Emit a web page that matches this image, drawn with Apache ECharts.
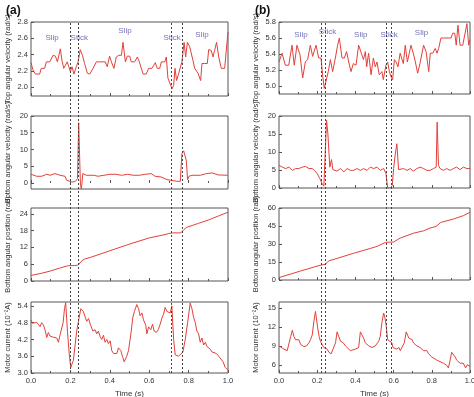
<!DOCTYPE html>
<html>
<head>
<meta charset="utf-8">
<script src="https://cdn.jsdelivr.net/npm/echarts@6/dist/echarts.min.js"></script>
<style>
  html, body { margin: 0; padding: 0; background: #fff; }
  #chart { width: 474px; height: 397px; }
</style>
</head>
<body>
<div id="chart"></div>
<script>
// time (s), value pairs
const topVelA = [[0,2.30],[0.010,2.21],[0.022,2.16],[0.044,2.16],[0.052,2.23],[0.069,2.23],[0.078,2.31],[0.095,2.31],[0.112,2.39],[0.124,2.38],[0.134,2.31],[0.140,2.31],[0.149,2.47],[0.157,2.33],[0.166,2.23],[0.176,2.23],[0.184,2.31],[0.193,2.31],[0.200,2.19],[0.208,2.25],[0.218,2.16],[0.230,2.25],[0.239,2.31],[0.250,2.46],[0.261,2.39],[0.272,2.29],[0.286,2.17],[0.298,2.16],[0.315,2.23],[0.332,2.31],[0.349,2.31],[0.365,2.31],[0.377,2.31],[0.387,2.25],[0.399,2.38],[0.408,2.31],[0.421,2.23],[0.433,2.37],[0.445,2.39],[0.459,2.39],[0.467,2.55],[0.479,2.31],[0.489,2.38],[0.501,2.38],[0.509,2.31],[0.526,2.31],[0.540,2.37],[0.550,2.31],[0.560,2.31],[0.569,2.16],[0.585,2.16],[0.597,2.23],[0.614,2.23],[0.624,2.23],[0.631,2.30],[0.641,2.23],[0.653,2.23],[0.662,2.31],[0.679,2.31],[0.687,2.37],[0.695,2.11],[0.704,2.09],[0.716,1.98],[0.724,2.02],[0.731,2.23],[0.739,2.08],[0.750,2.17],[0.760,2.15],[0.766,2.31],[0.777,2.55],[0.785,2.37],[0.794,2.55],[0.805,2.50],[0.814,2.50],[0.822,2.33],[0.831,2.23],[0.848,2.17],[0.861,2.08],[0.868,2.29],[0.882,2.29],[0.895,2.29],[0.902,2.46],[0.915,2.45],[0.924,2.37],[0.932,2.45],[0.942,2.55],[0.953,2.37],[0.966,2.23],[0.983,2.23],[0.992,2.23],[1.0,2.68]];
const botVelA = [[0,2.6],[0.029,2.0],[0.054,2.0],[0.080,2.6],[0.097,2.3],[0.122,2.8],[0.147,2.3],[0.173,2.0],[0.181,0.8],[0.190,0.3],[0.207,0.3],[0.224,0.4],[0.236,1.3],[0.242,18.0],[0.246,17.5],[0.251,-0.7],[0.256,-1.8],[0.263,2.8],[0.269,3.3],[0.280,2.3],[0.32,2.3],[0.34,2.0],[0.37,2.3],[0.40,2.6],[0.43,2.6],[0.46,2.3],[0.49,2.6],[0.52,2.3],[0.55,2.3],[0.58,2.6],[0.61,2.8],[0.63,2.0],[0.66,1.8],[0.69,1.0],[0.71,0.8],[0.72,0.6],[0.74,0.5],[0.758,0.5],[0.766,8.8],[0.775,9.6],[0.783,9.8],[0.788,6.8],[0.795,1.0],[0.802,2.0],[0.817,2.3],[0.86,2.3],[0.89,2.8],[0.92,3.0],[0.95,2.4],[1.0,2.3]];
const botPosA = [[0,2.0],[0.05,2.7],[0.10,3.6],[0.15,4.7],[0.19,5.5],[0.20,5.6],[0.22,5.5],[0.24,5.7],[0.255,7.0],[0.27,7.8],[0.30,8.4],[0.40,10.8],[0.50,13.2],[0.60,15.4],[0.68,16.6],[0.70,17.0],[0.72,17.2],[0.76,17.2],[0.775,18.3],[0.79,19.2],[0.85,20.6],[0.90,21.8],[0.95,23.2],[1.0,24.6]];
const currentA = [[0,4.90],[0.007,4.78],[0.017,4.75],[0.029,4.81],[0.037,4.74],[0.046,4.66],[0.054,4.80],[0.063,4.72],[0.071,4.55],[0.080,4.27],[0.088,4.45],[0.097,4.32],[0.105,4.35],[0.114,4.28],[0.122,4.33],[0.131,4.25],[0.139,4.10],[0.147,4.35],[0.156,4.38],[0.163,4.8],[0.170,5.3],[0.176,5.52],[0.185,4.5],[0.195,3.6],[0.202,3.2],[0.215,3.45],[0.232,4.5],[0.242,4.9],[0.253,5.3],[0.266,5.2],[0.275,5.0],[0.283,4.85],[0.292,4.95],[0.303,4.7],[0.314,4.5],[0.325,4.55],[0.334,4.4],[0.342,4.5],[0.351,4.3],[0.359,4.2],[0.368,4.35],[0.376,4.1],[0.385,4.2],[0.393,4.05],[0.402,4.15],[0.410,3.8],[0.419,3.7],[0.427,3.65],[0.436,3.7],[0.444,3.9],[0.456,3.8],[0.464,3.6],[0.473,3.4],[0.486,3.6],[0.495,3.8],[0.507,4.4],[0.517,5.0],[0.525,5.2],[0.537,5.45],[0.546,5.3],[0.554,5.05],[0.563,5.15],[0.571,4.9],[0.583,4.7],[0.588,4.4],[0.597,4.65],[0.608,4.55],[0.617,4.75],[0.625,4.5],[0.636,4.45],[0.646,4.55],[0.656,4.75],[0.666,5.0],[0.673,5.1],[0.681,5.35],[0.690,5.2],[0.698,5.25],[0.707,5.15],[0.715,5.4],[0.724,4.2],[0.732,3.65],[0.749,3.6],[0.758,3.62],[0.771,3.75],[0.783,4.2],[0.795,4.8],[0.808,5.5],[0.817,5.3],[0.825,5.0],[0.834,4.8],[0.842,4.5],[0.851,4.4],[0.859,4.1],[0.868,4.25],[0.876,4.0],[0.885,4.1],[0.893,3.95],[0.902,3.9],[0.910,3.85],[0.919,3.75],[0.927,3.8],[0.941,3.7],[0.953,3.6],[0.961,3.55],[0.975,3.4],[0.986,3.2],[1.0,3.1]];

const topVelB = [[0,5.30],[0.005,5.28],[0.016,5.41],[0.026,5.43],[0.033,5.26],[0.051,5.26],[0.058,5.26],[0.068,5.51],[0.080,5.26],[0.094,5.51],[0.110,5.39],[0.124,5.10],[0.138,5.30],[0.150,5.33],[0.164,5.51],[0.176,5.37],[0.185,5.35],[0.194,5.51],[0.208,5.35],[0.220,5.35],[0.229,5.12],[0.237,4.97],[0.246,4.95],[0.258,5.18],[0.269,5.33],[0.281,5.18],[0.295,5.35],[0.307,5.51],[0.316,5.60],[0.330,5.35],[0.342,5.35],[0.354,5.43],[0.365,5.30],[0.377,5.18],[0.389,5.28],[0.403,5.26],[0.417,5.51],[0.431,5.41],[0.442,5.33],[0.452,5.43],[0.459,5.24],[0.469,5.41],[0.482,5.14],[0.494,5.35],[0.504,5.24],[0.513,5.30],[0.525,5.14],[0.539,5.18],[0.546,5.08],[0.560,5.26],[0.569,5.30],[0.578,5.18],[0.586,5.12],[0.595,5.08],[0.604,5.33],[0.613,5.30],[0.623,5.24],[0.634,5.41],[0.644,5.41],[0.651,5.28],[0.661,5.51],[0.672,5.30],[0.682,5.41],[0.691,5.51],[0.703,5.41],[0.714,5.30],[0.726,5.16],[0.738,5.28],[0.747,5.28],[0.757,5.51],[0.770,5.43],[0.784,5.18],[0.792,5.41],[0.805,5.41],[0.818,5.47],[0.827,5.41],[0.836,5.47],[0.848,5.60],[0.862,5.60],[0.874,5.60],[0.888,5.60],[0.901,5.60],[0.909,5.66],[0.920,5.66],[0.928,5.51],[0.937,5.76],[0.948,5.51],[0.962,5.51],[0.972,5.51],[0.984,5.78],[0.993,5.51],[1.0,5.58]];
const botVelB = [[0,6.3],[0.017,5.8],[0.035,5.4],[0.052,5.8],[0.070,4.9],[0.087,5.4],[0.104,5.4],[0.122,5.8],[0.139,6.0],[0.157,5.4],[0.174,5.4],[0.186,4.9],[0.200,4.0],[0.214,2.6],[0.226,1.2],[0.235,0.5],[0.240,0.1],[0.249,18.8],[0.256,15.0],[0.266,5.8],[0.275,7.9],[0.282,5.1],[0.290,5.1],[0.304,4.7],[0.322,5.4],[0.339,4.5],[0.357,5.4],[0.374,4.9],[0.391,4.9],[0.409,5.4],[0.426,4.9],[0.443,5.4],[0.461,4.9],[0.478,5.8],[0.496,5.4],[0.513,5.8],[0.530,4.9],[0.548,5.4],[0.560,4.0],[0.569,0],[0.583,0],[0.593,0.7],[0.600,5.4],[0.609,9.5],[0.617,12.3],[0.626,5.1],[0.635,5.4],[0.652,5.4],[0.670,4.9],[0.687,5.4],[0.704,4.7],[0.722,5.4],[0.739,5.8],[0.757,5.4],[0.774,4.9],[0.791,4.9],[0.809,5.4],[0.823,5.8],[0.828,18.3],[0.835,6.3],[0.843,5.4],[0.861,4.9],[0.878,5.4],[0.896,4.9],[0.913,5.4],[0.930,5.8],[0.948,5.1],[0.965,5.8],[0.983,5.4],[1.0,5.4]];
const botPosB = [[0,2.0],[0.113,7.5],[0.209,12.0],[0.226,12.6],[0.243,13.1],[0.261,16.0],[0.304,18.0],[0.391,22.3],[0.478,26.3],[0.513,28.0],[0.557,31.3],[0.583,31.6],[0.600,31.6],[0.635,35.0],[0.704,39.0],[0.757,41.0],[0.791,43.3],[0.823,44.7],[0.847,48.0],[0.913,50.8],[0.965,53.6],[1.0,56.4]];
const currentB = [[0,9.07],[0.009,8.82],[0.026,8.57],[0.043,8.32],[0.052,8.32],[0.061,10.55],[0.070,11.54],[0.078,10.55],[0.087,10.05],[0.096,10.15],[0.104,10.05],[0.113,9.31],[0.122,9.07],[0.130,8.97],[0.144,9.07],[0.157,9.56],[0.165,10.05],[0.174,10.80],[0.183,13.02],[0.191,14.51],[0.195,14.75],[0.202,12.03],[0.210,10.55],[0.217,9.81],[0.226,9.31],[0.235,8.82],[0.243,8.57],[0.252,8.57],[0.261,8.08],[0.273,7.83],[0.283,8.08],[0.296,9.56],[0.304,11.29],[0.313,11.04],[0.322,9.81],[0.336,9.56],[0.348,9.07],[0.357,8.82],[0.374,8.32],[0.383,8.32],[0.400,8.57],[0.417,8.82],[0.426,11.29],[0.435,11.04],[0.443,10.30],[0.452,9.56],[0.461,9.31],[0.470,9.07],[0.478,9.07],[0.487,8.82],[0.496,8.57],[0.504,9.07],[0.513,8.82],[0.522,9.81],[0.530,10.55],[0.539,12.77],[0.548,14.26],[0.553,13.76],[0.560,12.53],[0.569,10.05],[0.579,9.81],[0.591,9.56],[0.597,8.82],[0.605,9.07],[0.617,8.57],[0.628,8.82],[0.635,8.32],[0.643,8.32],[0.656,9.56],[0.666,11.29],[0.673,11.04],[0.680,10.30],[0.687,10.05],[0.697,10.05],[0.704,9.56],[0.713,9.31],[0.722,9.07],[0.730,8.82],[0.739,8.82],[0.748,8.57],[0.757,8.32],[0.765,8.08],[0.774,8.32],[0.783,7.83],[0.791,7.58],[0.800,7.33],[0.809,7.09],[0.826,6.84],[0.843,6.59],[0.861,6.35],[0.878,6.00],[0.887,5.60],[0.896,6.84],[0.904,8.08],[0.913,7.83],[0.922,7.33],[0.930,6.84],[0.939,6.84],[0.948,6.35],[0.965,6.35],[0.977,5.60],[0.986,6.10],[0.995,6.00],[1.0,5.85]];

// stick / slip boundaries (s)
const dashA = [0.205, 0.245, 0.715, 0.765];
const dashB = [0.217, 0.240, 0.563, 0.593];

// annotations: [time, value, text]
const notesA = [[0.107, 2.60, 'Slip'], [0.245, 2.60, 'Stick'], [0.477, 2.69, 'Slip'], [0.716, 2.60, 'Stick'], [0.868, 2.64, 'Slip']];
const notesB = [[0.115, 5.64, 'Slip'], [0.254, 5.675, 'Stick'], [0.428, 5.64, 'Slip'], [0.577, 5.64, 'Stick'], [0.746, 5.66, 'Slip']];

// tick labels
const timeTicks = [0, 0.2, 0.4, 0.6, 0.8, 1.0];
const topVelATicks = [2.0, 2.2, 2.4, 2.6, 2.8];
const botVelATicks = [0, 5, 10, 15, 20];
const botPosATicks = [0, 6, 12, 18, 24];
const currentATicks = [3.0, 3.6, 4.2, 4.8, 5.4];
const topVelBTicks = [5.0, 5.2, 5.4, 5.6, 5.8];
const botVelBTicks = [0, 5, 10, 15, 20];
const botPosBTicks = [0, 15, 30, 45, 60];
const currentBTicks = [6, 9, 12, 15];

const yNames = ['Top angular velocity (rad/s)', 'Bottom angular velocity (rad/s)', 'Bottom angular position (rad)', 'Motor current (10\u207B\u00B2A)'];

const panels = [
  { col: 0, row: 0, data: topVelA, ticks: topVelATicks, min: 1.89, max: 2.8, dec: 1 },
  { col: 0, row: 1, data: botVelA, ticks: botVelATicks, min: -1.8, max: 20, dec: 0 },
  { col: 0, row: 2, data: botPosA, ticks: botPosATicks, min: 0, max: 26.1, dec: 0 },
  { col: 0, row: 3, data: currentA, ticks: currentATicks, min: 3.0, max: 5.54, dec: 1 },
  { col: 1, row: 0, data: topVelB, ticks: topVelBTicks, min: 4.9, max: 5.8, dec: 1 },
  { col: 1, row: 1, data: botVelB, ticks: botVelBTicks, min: 0, max: 20, dec: 0 },
  { col: 1, row: 2, data: botPosB, ticks: botPosBTicks, min: 0, max: 60, dec: 0 },
  { col: 1, row: 3, data: currentB, ticks: currentBTicks, min: 4.8, max: 16, dec: 0 }
];

const colLeft = [31, 279];
const colWidth = [197, 191];
const rowTop = [[22, 116, 208, 302], [22, 116, 208, 302]];
const rowHeight = [[74, 73, 73, 71], [72, 72, 72, 71]];

const FONT = 'Liberation Sans, Arial, sans-serif';
const LINE = '#e2413b';
const TEXT = '#333';

const chart = echarts.init(document.getElementById('chart'));

const grid = [], xAxis = [], yAxis = [], series = [];

panels.forEach((p, i) => {
  grid.push({
    left: colLeft[p.col], top: rowTop[p.col][p.row],
    width: colWidth[p.col], height: rowHeight[p.col][p.row],
    outerBoundsMode: 'none', containLabel: false,
    show: true, borderColor: '#555', borderWidth: 1, backgroundColor: 'transparent'
  });
  const bottom = p.row === 3;
  xAxis.push({
    gridIndex: i, type: 'value', min: 0, max: 1,
    axisLine: { show: false },
    axisTick: { inside: true, length: 3, customValues: timeTicks, lineStyle: { color: '#555' } },
    minorTick: { show: true, splitNumber: 2, length: 2, lineStyle: { color: '#555' } },
    axisLabel: {
      show: bottom, customValues: timeTicks, fontSize: 7.5, color: TEXT, fontFamily: FONT, margin: 4,
      formatter: v => v.toFixed(1)
    },
    splitLine: { show: false },
    name: bottom ? 'Time (s)' : '', nameLocation: 'middle', nameGap: 17,
    nameTextStyle: { fontSize: 8, color: TEXT, fontFamily: FONT }
  });
  yAxis.push({
    gridIndex: i, type: 'value', min: p.min, max: p.max,
    axisLine: { show: false },
    axisTick: { inside: true, length: 3, customValues: p.ticks, lineStyle: { color: '#555' } },
    axisLabel: {
      customValues: p.ticks, fontSize: 7.5, color: TEXT, fontFamily: FONT, margin: 3,
      formatter: v => v.toFixed(p.dec)
    },
    splitLine: { show: false },
    name: yNames[p.row], nameLocation: 'middle', nameGap: 19,
    nameTextStyle: { fontSize: 7.5, color: TEXT, fontFamily: FONT }
  });
  series.push({
    type: 'line', xAxisIndex: i, yAxisIndex: i, data: p.data,
    symbol: 'none', lineStyle: { color: LINE, width: 1 }, z: 3
  });
});

// slip / stick annotations on the top panels
[[0, notesA], [4, notesB]].forEach(([idx, notes]) => {
  series.push({
    type: 'scatter', xAxisIndex: idx, yAxisIndex: idx, symbolSize: 0,
    data: notes.map(n => [n[0], n[1]]),
    label: {
      show: true, position: 'inside', color: '#4b4ba8', fontSize: 8, fontFamily: FONT,
      formatter: q => notes[q.dataIndex][2]
    },
    z: 5
  });
});

// dashed boundaries spanning the whole column
[[0, dashA], [1, dashB]].forEach(([col, dashes]) => {
  const gi = grid.length;
  grid.push({ left: colLeft[col], top: 22, width: colWidth[col], height: 373 - 22, show: false, outerBoundsMode: 'none' });
  xAxis.push({ gridIndex: gi, type: 'value', min: 0, max: 1, show: false });
  yAxis.push({ gridIndex: gi, type: 'value', min: 0, max: 1, show: false });
  series.push({
    type: 'line', xAxisIndex: gi, yAxisIndex: gi, data: [],
    markLine: {
      silent: true, symbol: 'none', label: { show: false },
      lineStyle: { type: [2, 2], color: '#444', width: 1 },
      data: dashes.map(x => ({ xAxis: x }))
    },
    z: 6
  });
});

chart.setOption({
  animation: false,
  backgroundColor: '#fff',
  textStyle: { fontFamily: FONT },
  title: [
    { text: '(a)', left: 1, top: 0, textStyle: { fontSize: 12, fontWeight: 'bold', color: '#111', fontFamily: FONT } },
    { text: '(b)', left: 250, top: 0, textStyle: { fontSize: 12, fontWeight: 'bold', color: '#111', fontFamily: FONT } }
  ],
  grid, xAxis, yAxis, series
});
</script>
</body>
</html>
